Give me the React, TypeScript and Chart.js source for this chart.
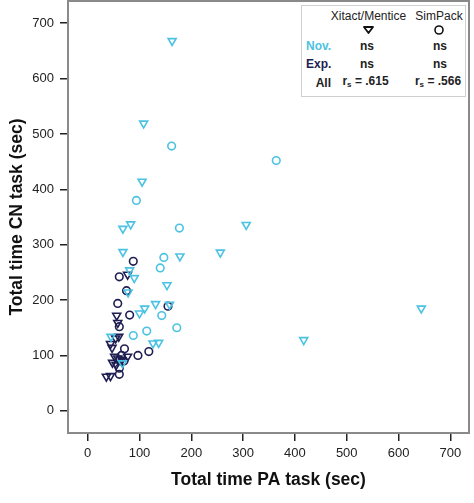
import React, { useEffect, useRef } from 'react';
import { Chart, registerables } from 'chart.js';

Chart.register(...registerables);

// Novices – Xitact/Mentice (light triangles)
const novXitactX = [163, 108, 105, 68, 83, 306, 68, 178, 256, 153, 81, 90, 78, 131, 110, 100, 158, 644, 417, 126, 137, 45, 67];
const novXitactY = [668, 519, 414, 329, 337, 336, 287, 279, 286, 227, 254, 240, 214, 193, 185, 176, 192, 185, 128, 122, 123, 134, 86];
// Novices – SimPack (light circles)
const novSimPackX = [162, 364, 94, 177, 147, 140, 143, 172, 88, 114];
const novSimPackY = [478, 452, 380, 330, 277, 258, 172, 150, 136, 144];
// Experts – Xitact/Mentice (dark triangles)
const expXitactX = [77, 56, 58, 54, 60, 44, 47, 52, 58, 77, 55, 48, 36, 44, 66];
const expXitactY = [246, 172, 159, 131, 134, 121, 114, 98, 95, 98, 83, 87, 62, 63, 92];
// Experts – SimPack (dark circles)
const expSimPackX = [88, 61, 75, 58, 81, 61, 71, 97, 118, 155, 61, 61, 61, 70, 65];
const expSimPackY = [270, 242, 217, 194, 173, 152, 112, 100, 107, 189, 66, 77, 92, 90, 100];

const xTickValues = [0, 100, 200, 300, 400, 500, 600, 700];
const yTickValues = [0, 100, 200, 300, 400, 500, 600, 700];

const LIGHT = '#4cc2e2';
const DARK = '#1f1e52';
const FONT = '"Liberation Sans", Arial, Helvetica, sans-serif';

const T = ({ x, y, align = 'center', style, children }: any) => {
  const tx = align === 'center' ? '-50%' : align === 'right' ? '-100%' : '0';
  return (
    <div
      style={{
        position: 'absolute',
        left: x,
        top: y,
        transform: `translate(${tx}, -50%)`,
        whiteSpace: 'nowrap',
        fontFamily: FONT,
        fontSize: 12,
        lineHeight: '14px',
        color: '#222',
        ...style,
      }}
    >
      {children}
    </div>
  );
};

export default function App() {
  const ref = useRef<HTMLCanvasElement>(null);

  useEffect(() => {
    const pts = (xs: number[], ys: number[]) => xs.map((x, i) => ({ x, y: ys[i] }));
    const framePlugin = {
      id: 'frame',
      afterDraw(chart: any) {
        const { ctx, chartArea } = chart;
        const { left, right, top, bottom } = chartArea;
        ctx.save();
        ctx.strokeStyle = '#8a8a8a';
        ctx.lineWidth = 2;
        ctx.strokeRect(left, top, right - left, bottom - top);
        ctx.restore();
      },
    };
    const tri = (color: string) => ({
      pointStyle: 'triangle' as const,
      rotation: 180,
      radius: 4.6,
      borderWidth: 1.6,
      borderColor: color,
      backgroundColor: 'rgba(0,0,0,0)',
    });
    const circ = (color: string) => ({
      pointStyle: 'circle' as const,
      radius: 3.8,
      borderWidth: 1.6,
      borderColor: color,
      backgroundColor: 'rgba(0,0,0,0)',
    });
    const chart = new Chart(ref.current as HTMLCanvasElement, {
      type: 'scatter',
      data: {
        datasets: [
          { label: 'Nov. SimPack', data: pts(novSimPackX, novSimPackY), ...circ(LIGHT) },
          { label: 'Nov. Xitact/Mentice', data: pts(novXitactX, novXitactY), ...tri(LIGHT) },
          { label: 'Exp. SimPack', data: pts(expSimPackX, expSimPackY), ...circ(DARK) },
          { label: 'Exp. Xitact/Mentice', data: pts(expXitactX, expXitactY), ...tri(DARK) },
        ] as any,
      },
      options: {
        responsive: false,
        animation: false,
        layout: { autoPadding: false, padding: { top: 1, right: 5, left: 0, bottom: 0 } },
        plugins: { legend: { display: false }, tooltip: { enabled: false } },
        scales: {
          x: {
            type: 'linear',
            min: -38,
            max: 736,
            afterBuildTicks: (s: any) => {
              s.ticks = xTickValues.map((v) => ({ value: v }));
            },
            afterFit: (s: any) => {
              s.height = 70;
              s.paddingLeft = 0;
              s.paddingRight = 0;
            },
            grid: { drawOnChartArea: false, drawTicks: true, tickLength: 8, color: '#222', lineWidth: 1.5 },
            border: { display: false },
            ticks: { font: { family: FONT, size: 13 }, color: '#222', padding: 5, maxRotation: 0, autoSkip: false },
            title: {
              display: true,
              text: 'Total time PA task (sec)',
              font: { family: FONT, size: 17.5, weight: 'bold' },
              color: '#111',
              padding: { top: 0, bottom: 12.5 },
            },
          },
          y: {
            type: 'linear',
            min: -40,
            max: 740,
            afterBuildTicks: (s: any) => {
              s.ticks = yTickValues.map((v) => ({ value: v }));
            },
            afterFit: (s: any) => {
              s.width = 68;
              s.paddingTop = 0;
              s.paddingBottom = 0;
            },
            grid: { drawOnChartArea: false, drawTicks: true, tickLength: 8, color: '#222', lineWidth: 1.5 },
            border: { display: false },
            ticks: { font: { family: FONT, size: 13 }, color: '#222', padding: 6, autoSkip: false },
            title: {
              display: true,
              text: 'Total time CN task (sec)',
              font: { family: FONT, size: 17.5, weight: 'bold' },
              color: '#111',
              padding: { top: 6.5, bottom: 0 },
            },
          },
        },
      } as any,
      plugins: [framePlugin],
    });
    return () => chart.destroy();
  }, []);

  return (
    <div style={{ position: 'absolute', left: 0, top: 0, width: 474, height: 503, background: '#fff' }}>
      <canvas ref={ref} width={474} height={503} style={{ display: 'block' }} />
      <div
        style={{
          position: 'absolute',
          left: 301,
          top: 5,
          width: 165,
          height: 92,
          border: '1px solid #cfcfcf',
          background: '#fff',
          boxSizing: 'border-box',
        }}
      />
      <T x={368.5} y={16}>Xitact/Mentice</T>
      <T x={439} y={16}>SimPack</T>
      <svg width={11} height={8} viewBox="0 0 11 8" style={{ position: 'absolute', left: 363, top: 26, display: 'block' }}>
        <polygon points="1,1 10,1 5.5,7" fill="none" stroke="#111" strokeWidth={1.8} strokeLinejoin="round" />
      </svg>
      <svg width={10} height={10} viewBox="0 0 10 10" style={{ position: 'absolute', left: 434, top: 25, display: 'block' }}>
        <circle cx={5} cy={5} r={4} fill="none" stroke="#111" strokeWidth={1.6} />
      </svg>
      <T x={306} y={46} align="left" style={{ fontWeight: 'bold', color: LIGHT }}>Nov.</T>
      <T x={367} y={46} style={{ fontWeight: 'bold' }}>ns</T>
      <T x={440} y={46} style={{ fontWeight: 'bold' }}>ns</T>
      <T x={306} y={64} align="left" style={{ fontWeight: 'bold', color: DARK }}>Exp.</T>
      <T x={367} y={64} style={{ fontWeight: 'bold' }}>ns</T>
      <T x={440} y={64} style={{ fontWeight: 'bold' }}>ns</T>
      <T x={331} y={82.5} align="right" style={{ fontWeight: 'bold' }}>All</T>
      <T x={365.5} y={82.5} style={{ fontWeight: 'bold' }}>
        r<sub style={{ fontSize: 8, verticalAlign: -2 }}>s</sub> = .615
      </T>
      <T x={438} y={82.5} style={{ fontWeight: 'bold' }}>
        r<sub style={{ fontSize: 8, verticalAlign: -2 }}>s</sub> = .566
      </T>
    </div>
  );
}
